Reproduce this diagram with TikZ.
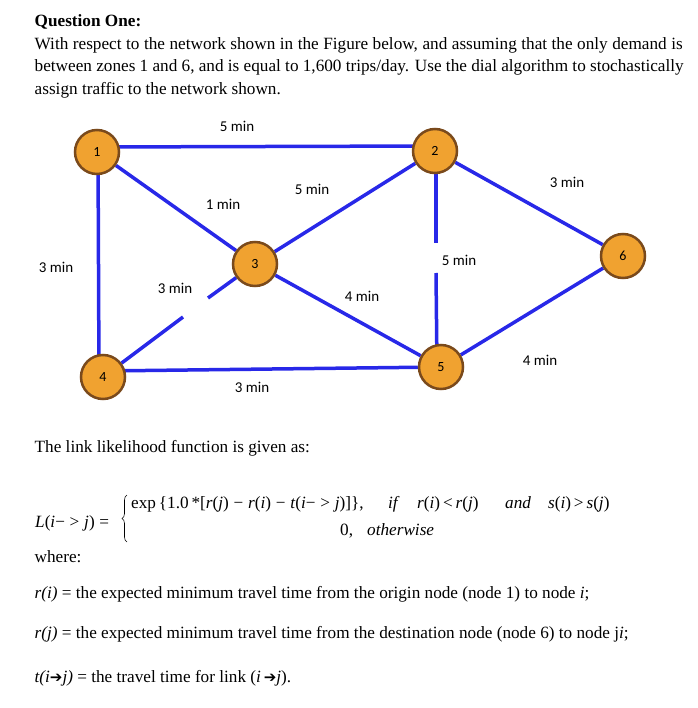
\documentclass[tikz,border=0pt]{standalone}
\usepackage{fontspec}
\setmainfont{Liberation Serif}
\newfontfamily\lblfont{Carlito}
\newfontfamily\arrfont{DejaVu Sans}
\usetikzlibrary{backgrounds,decorations.pathreplacing}
\definecolor{nodeorange}{RGB}{240,162,48}
\definecolor{nodebrown}{RGB}{122,74,28}
\definecolor{linkblue}{RGB}{40,40,232}
\newcommand{\arr}{{\arrfont\fontsize{15}{17}\selectfont ➔}}
\newcommand{\mn}{\;−\;}
\begin{document}
\begin{tikzpicture}[x=1pt,y=-1pt,
  zone/.style={circle,draw=nodebrown,line width=2.5pt,fill=nodeorange,minimum size=44pt,inner sep=0pt,font=\lblfont\fontsize{14}{16}\selectfont},
  link/.style={draw=linkblue,line width=3.5pt},
  lbl/.style={font=\lblfont\fontsize{15}{17}\selectfont,inner sep=0pt},
  body/.style={anchor=base west,inner sep=0pt,font=\fontsize{17.2}{20}\selectfont},
  titletext/.style={body,font=\bfseries\fontsize{17.2}{20}\selectfont},
]
\useasboundingbox (0,0) rectangle (697,708);

% nodes
\node[zone] (n1) at (97,152) {1};
\node[zone] (n2) at (435,151) {2};
\node[zone] (n3) at (255,264) {3};
\node[zone] (n4) at (103,377) {4};
\node[zone] (n5) at (441,367) {5};
\node[zone] (n6) at (623,256) {6};

\coordinate (g25a) at (436,243);
\coordinate (g25b) at (436,273);
\coordinate (g34a) at (208,298);
\coordinate (g34b) at (183,317);

\begin{scope}[on background layer]
\draw[link] ([yshift=5pt]n1.center) -- ([yshift=5pt]n2.center);
\draw[link] ([xshift=1pt]n1.center) -- ([xshift=-4pt]n4.center);
\draw[link] (n1) -- (n3);
\draw[link] (n2) -- (n3);
\draw[link] ([xshift=1pt]n2.center) -- (g25a);
\draw[link] (g25b) -- ([xshift=-4pt]n5.center);
\draw[link] (n2) -- (n6);
\draw[link] (n3) -- (g34a);
\draw[link] (g34b) -- (n4);
\draw[link] (n3) -- (n5);
\draw[link] ([yshift=6pt]n4.center) -- (n5);
\draw[link] (n5) -- (n6);
\end{scope}

% link labels
\node[lbl] (l12) at (237,126) {5 min};
\node[lbl] (l23) at (312,189) {5 min};
\node[lbl] (l13) at (223,204) {1 min};
\node[lbl] (l14) at (56,267) {3 min};
\node[lbl] (l34) at (175,288) {3 min};
\node[lbl] (l35) at (362,296) {4 min};
\node[lbl] (l45) at (252,387) {3 min};
\node[lbl] (l26) at (567,182) {3 min};
\node[lbl] (l25) at (459,260) {5 min};
\node[lbl] (l56) at (540,360) {4 min};

% text
\node[titletext] (title) at (34.5,27) {Question One:};
\node[body] (p1) at (34.5,49.5) {\makebox[648pt][s]{With respect to the network shown in the Figure below, and assuming that the only demand is}};
\node[body] (p2) at (34.5,72) {\makebox[649pt][s]{between zones 1 and 6, and is equal to 1,600 trips/day. Use the dial algorithm to stochastically}};
\node[body] (p3) at (34.5,94.5) {assign traffic to the network shown.};

\node[body] (p4) at (34.5,452) {The link likelihood function is given as:};

% formula
\node[body] (fL) at (35,527) {\textit{L}(\textit{i}−\;>\;\textit{j})\;=};
\draw[line width=0.6pt,decorate,decoration={brace,amplitude=5pt,aspect=0.5}] (127,542) -- (127,495);
\node[body] (fexp) at (131,508) {exp\,\{1.0\,*[\textit{r}(\textit{j})\mn\textit{r}(\textit{i})\mn\textit{t}(\textit{i}−\;>\;\textit{j})]\},};
\node[body] (fif) at (388,508) {\textit{if}};
\node[body] (fc1) at (417,508) {\textit{r}(\textit{i})\,<\,\textit{r}(\textit{j})};
\node[body] (fand) at (505,508) {\textit{and}};
\node[body] (fc2) at (548,508) {\textit{s}(\textit{i})\,>\,\textit{s}(\textit{j})};
\node[body] (fzero) at (340,535) {0,};
\node[body] (fother) at (367,535) {\textit{otherwise}};

\node[body] (p5) at (34.5,562) {where:};
\node[body] (p6) at (34.5,598) {\textit{r(i)} = the expected minimum travel time from the origin node (node 1) to node \textit{i};};
\node[body] (p7) at (34.5,638) {\textit{r(j)} = the expected minimum travel time from the destination node (node 6) to node j\textit{i};};
\node[body] (p8) at (34.5,682) {\textit{t(i}\arr\textit{j)} = the travel time for link (\textit{i}\,\arr\textit{j}).};
\end{tikzpicture}
\end{document}
